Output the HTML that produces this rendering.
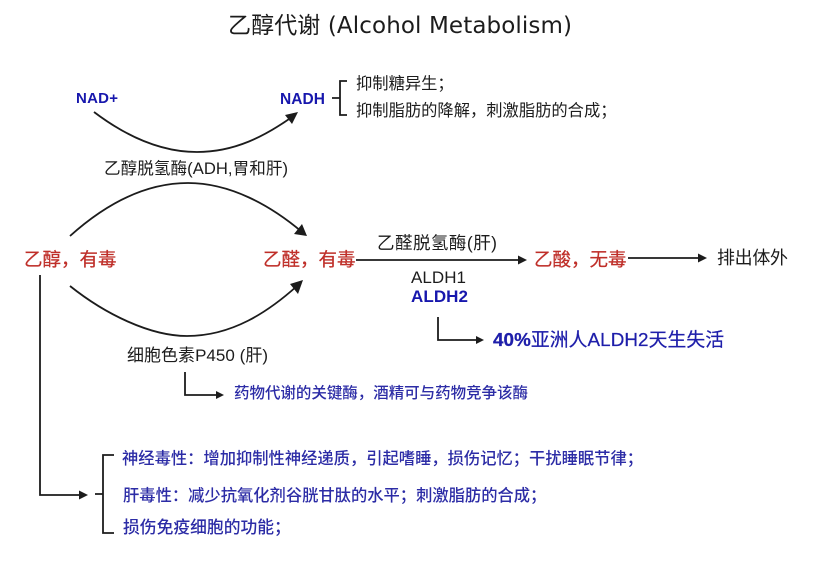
<!DOCTYPE html>
<html><head><meta charset="utf-8">
<style>
html,body{margin:0;padding:0;background:#fff;width:828px;height:580px;overflow:hidden}
svg{display:block;filter:blur(.3px)}
text{font-family:"Liberation Sans","Noto Sans CJK SC",sans-serif;fill:#1c1c1c;dominant-baseline:alphabetic}
.r{fill:#bf2f29;font-size:18.500px;stroke:#bf2f29;stroke-width:.25}
.b{fill:#1717ad;font-weight:bold}
.p{fill:#2c2ca6;font-size:16.300px;font-weight:500}
.k{font-size:16.300px}
path,line{fill:none;stroke:#1c1c1c;stroke-width:1.800}
.h{fill:#1c1c1c;stroke:none}
</style></head><body>
<svg width="828" height="580" viewBox="0 0 828 580" xmlns="http://www.w3.org/2000/svg">
<text x="228" y="33" textLength="344" lengthAdjust="spacing" style='font-family:"DejaVu Sans","Noto Sans CJK SC",sans-serif;font-size:23px'>乙醇代谢 (Alcohol Metabolism)</text>

<text class="b" x="76" y="103" font-size="15" textLength="42">NAD+</text>
<text class="b" x="280" y="104" font-size="15.500" textLength="45">NADH</text>
<path d="M94 112 C135 143 170 152 197 152 C235 152 265 136 292 117"/>
<path class="h" d="M298 112 L285 115 L292 124 Z"/>

<path d="M332 98 H340 M347 81 H340 V115 H347"/>
<text class="k" x="356" y="89">抑制糖异生；</text>
<text class="k" x="356" y="116">抑制脂肪的降解，刺激脂肪的合成；</text>

<text x="104" y="174" font-size="16.600" textLength="184">乙醇脱氢酶(ADH,胃和肝)</text>
<path d="M70 236 C110 200 150 183 188 183 C230 183 270 205 302 232"/>
<path class="h" d="M307 236 L294 234 L302 224 Z"/>

<text class="r" x="24" y="266">乙醇，有毒</text>
<text class="r" x="263" y="266">乙醛，有毒</text>
<text class="r" x="534" y="266">乙酸，无毒</text>

<path d="M70 286 C105 314 150 336 187 336 C232 336 268 312 297 286"/>
<path class="h" d="M303 280 L290 284 L298 294 Z"/>

<line x1="356" y1="260" x2="520" y2="260"/>
<path class="h" d="M527 260 L518 255.500 V264.500 Z"/>
<line x1="628" y1="258" x2="700" y2="258"/>
<path class="h" d="M707 258 L698 253.500 V262.500 Z"/>
<text x="717" y="264" font-size="18" textLength="71">排出体外</text>

<text x="377" y="249" font-size="17.500" textLength="120">乙醛脱氢酶(肝)</text>
<text x="411" y="283" font-size="17" textLength="55">ALDH1</text>
<text class="b" x="411" y="302" font-size="17" textLength="57">ALDH2</text>

<path d="M438 317 V340 H478"/>
<path class="h" d="M484 340 L476 336 V344 Z"/>
<text x="493" y="346" font-size="18.800" textLength="231" style="fill:#1e1eaa;stroke:#1e1eaa;stroke-width:.25"><tspan font-weight="bold">40%</tspan>亚洲人ALDH2天生失活</text>

<text x="127" y="361" font-size="17" textLength="141">细胞色素P450 (肝)</text>
<path d="M185 372 V395 H218"/>
<path class="h" d="M224 395 L216 391 V399 Z"/>
<text class="p" x="234" y="398" style="font-size:15.500px" textLength="294">药物代谢的关键酶，酒精可与药物竞争该酶</text>

<path d="M40 275 V495 H81"/>
<path class="h" d="M88 495 L79 490.500 V499.500 Z"/>
<path d="M95 494 H103 M114 455 H103 V533 H114"/>
<text class="p" x="122" y="464">神经毒性：增加抑制性神经递质，引起嗜睡，损伤记忆；干扰睡眠节律；</text>
<text class="p" x="123" y="501">肝毒性：减少抗氧化剂谷胱甘肽的水平；刺激脂肪的合成；</text>
<text class="p" x="123" y="533" style="font-size:16.800px">损伤免疫细胞的功能；</text>
</svg>
</body></html>
